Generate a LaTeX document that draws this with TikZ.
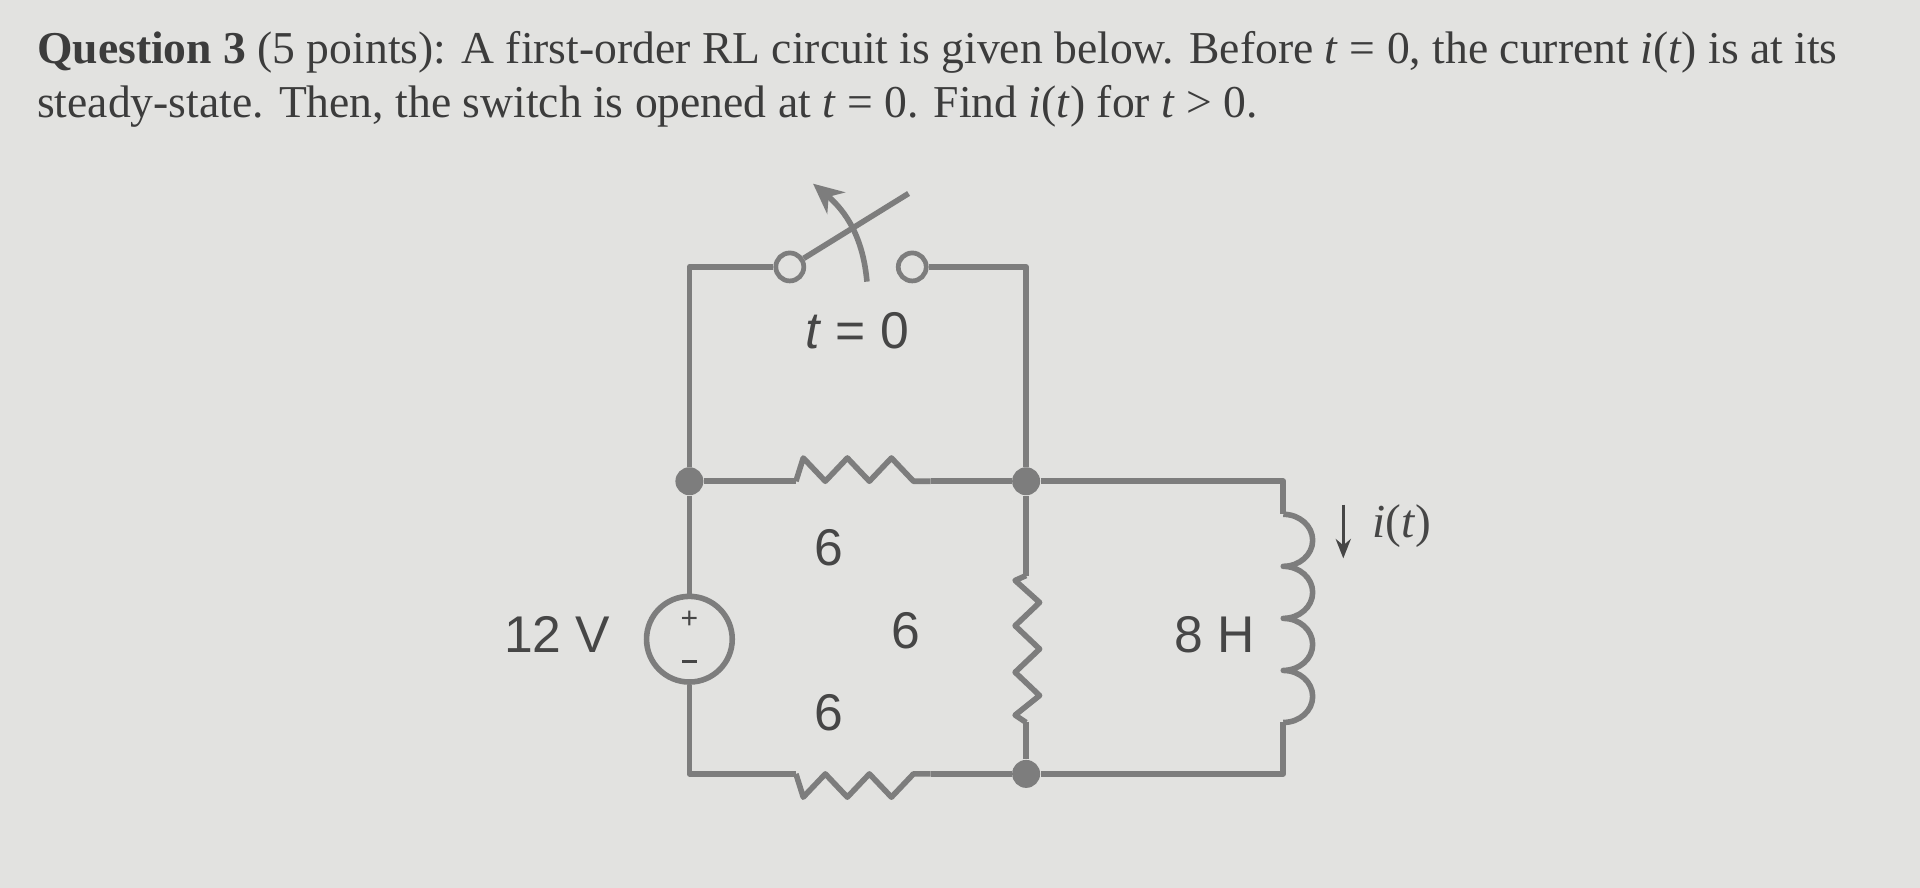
\documentclass[tikz,border=0pt]{standalone}
\usepackage{fontspec}
\setmainfont{Liberation Serif}
\setsansfont{Liberation Sans}
\usetikzlibrary{arrows.meta}
\definecolor{bg}{RGB}{226,226,224}
\definecolor{wire}{RGB}{125,125,125}
\definecolor{txt}{RGB}{70,70,70}
\definecolor{qt}{RGB}{60,60,60}
\begin{document}
\begin{tikzpicture}[x=0.02cm,y=-0.02cm,
  w/.style={draw=wire,line width=2.6pt,line join=round},
  dot/.style={circle,fill=wire,inner sep=0pt,minimum size=13pt},
  term/.style={circle,draw=wire,fill=bg,line width=2.2pt,inner sep=0pt,minimum size=13pt},
  lab/.style={font=\sffamily\fontsize{24}{28}\selectfont,text=txt},
  q/.style={font=\fontsize{21.2}{24}\selectfont,text=qt,anchor=base west,inner sep=0pt}]
\fill[bg] (0,0) rectangle (1568,725);
\useasboundingbox (0,0) rectangle (1568,725);
\node[q] (l1) at (30,52) {\textbf{Question 3} (5 points): A first-order RL circuit is given below. Before \textit{t} = 0, the current \textit{i}(\textit{t}) is at its};
\node[q] (l2) at (30,96) {steady-state. Then, the switch is opened at \textit{t} = 0. Find \textit{i}(\textit{t}) for \textit{t} > 0.};
% nodes
\node[dot] (A) at (563,393) {};
\node[dot] (B) at (838,393) {};
\node[dot] (C) at (838,632) {};
\node[term] (S1) at (645,218) {};
\node[term] (S2) at (745,218) {};
\coordinate (TL) at (563,218);
\coordinate (TR) at (838,218);
\coordinate (BL) at (563,632);
\coordinate (RT) at (1048,393);
\coordinate (RB) at (1048,632);
\node[circle,draw=wire,line width=2.6pt,minimum size=1.4cm,inner sep=0pt] (V) at (563,522) {};
% wires
\draw[w] (A) -- (TL) -- (S1);
\draw[w] (S2) -- (TR) -- (B);
\draw[w] (A) -- (V);
\draw[w] (V) -- (BL) -- (650,632);
\draw[w] (760,632) -- (C) -- (RB) -- (1048,590);
\draw[w] (A) -- (650,393);
\draw[w] (760,393) -- (B) -- (RT) -- (1048,420);
\draw[w] (B) -- (838,470);
\draw[w] (838,590) -- (C);
% top resistor
\draw[w] (650,393) -- (656,374) -- (674,393) -- (692,374) -- (710,393) -- (728,374) -- (746,393) -- (760,393);
% bottom resistor
\draw[w] (650,632) -- (656,651) -- (674,632) -- (692,651) -- (710,632) -- (728,651) -- (746,632) -- (760,632);
% middle resistor
\draw[w] (838,470) -- (829,474) -- (849,492) -- (829,511) -- (849,530) -- (829,549) -- (849,568) -- (829,584) -- (838,590);
% inductor
\draw[w] (1048,420) arc[start angle=90,end angle=270,x radius=-24,y radius=-21.25]
  arc[start angle=90,end angle=270,x radius=-24,y radius=-21.25]
  arc[start angle=90,end angle=270,x radius=-24,y radius=-21.25]
  arc[start angle=90,end angle=270,x radius=-24,y radius=-21.25];
% switch
\draw[w] (S1) -- (742,158);
\draw[draw=wire,line width=2.6pt,-{Stealth[length=14pt,width=13pt]}] (708,230) to[out=95,in=-40] (664,150);
% source signs
\node[lab,font=\sffamily\fontsize{14}{16}\selectfont] (plus) at (563,506) {+};
\draw[draw=txt,line width=1.3pt] (557,540) -- (569,540);
% labels
\node[lab] (t0) at (700,270) {\textit{t} = 0};
\node[lab] (r1) at (677,447) {6};
\node[lab] (r2) at (740,515) {6};
\node[lab] (r3) at (677,582) {6};
\node[lab] (v12) at (455,518) {12 V};
\node[lab] (L) at (992,518) {8 H};
\coordinate (ia) at (1097,412);
\coordinate (ib) at (1097,456);
\draw[draw=txt,line width=1.5pt,-{Stealth[length=9pt,width=7pt]}] (ia) -- (ib);
\node[font=\fontsize{22}{26}\selectfont,text=txt] (it) at (1145,430) {\textit{i}(\textit{t})};
\end{tikzpicture}
\end{document}
